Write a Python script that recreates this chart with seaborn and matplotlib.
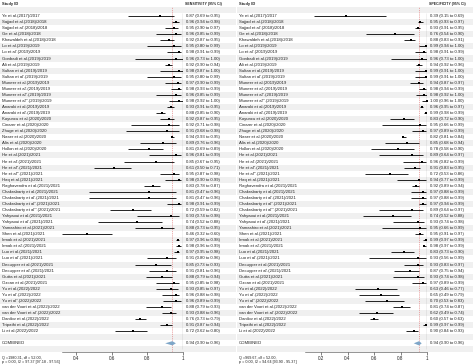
"""
Forest plot of pooled sensitivity and specificity
"""
import matplotlib
matplotlib.use("Agg")
import matplotlib.pyplot as plt
import seaborn as sns
import pandas as pd

studies = [
    "Ye et al.(2017)/2017", "Sajjad et al.(2018)/2018", "Sajjad et al'.(2018)/2018",
    "Ge et al.(2018)/2018", "Khawaldeh et al.(2018)/2018", "Lo et al.(2019)/2019",
    "Lo et al'.(2019)/2019", "Gonbadi et al.(2019)/2019", "Ali et al.(2019)/2019",
    "Sultan et al.(2019)/2019", "Sultan et al'.(2019)/2019", "Muneer et al.(2019)/2019",
    "Muneer et al'.(2019)/2019", "Muneer et al''.(2019)/2019", "Muneer et al'''.(2019)/2019",
    "Anaraki et al.(2019)/2019", "Anaraki et al'.(2019)/2019", "Koyuncu et al.(2020)/2020",
    "Cinarer et al.(2020)/2020", "Zhuge et al.(2020)/2020", "Naser et al.(2020)/2020",
    "Alis et al.(2020)/2020", "Hollon et al.(2020)/2020", "He et al.(2021)/2021",
    "He et al'.(2021)/2021", "He et al''.(2021)/2021", "He et al'''.(2021)/2021",
    "Haq et al.(2021)/2021", "Raghavendra et al.(2021)/2021", "Chakrabarty et al.(2021)/2021",
    "Chakrabarty et al'.(2021)/2021", "Chakrabarty et al''.(2021)/2021",
    "Chakrabarty et al'''.(2021)/2021", "Yahyaoui et al.(2021)/2021",
    "Yahyaoui et al'.(2021)/2021", "Yamashiro et al.(2021)/2021", "Shen et al.(2021)/2021",
    "Irmak et al.(2021)/2021", "Irmak et al'.(2021)/2021", "Luo et al.(2021)/2021",
    "Luo et al'.(2021)/2021", "Decuyper et al.(2021)/2021", "Decuyper et al'.(2021)/2021",
    "Gutta et al.(2021)/2021", "Ozcan et al.(2021)/2021", "Yu et al.(2022)/2022",
    "Yu et al'.(2022)/2022", "Yu et al''.(2022)/2022", "van der Voort et al.(2022)/2022",
    "van der Voort et al'.(2022)/2022", "Danilov et al.(2022)/2022",
    "Tripathi et al.(2022)/2022", "Li et al.(2022)/2022",
]

sens = [0.87, 0.96, 0.95, 0.96, 0.92, 0.95, 0.98, 0.96, 0.92, 0.98, 0.95, 0.97, 0.98,
        0.96, 0.98, 0.93, 0.88, 0.92, 0.92, 0.91, 0.94, 0.89, 0.81, 0.96, 0.85, 0.61,
        0.95, 0.98, 0.83, 0.81, 0.81, 0.98, 0.72, 0.93, 0.74, 0.88, 0.46, 0.97, 0.98,
        0.97, 0.91, 0.85, 0.91, 0.88, 0.95, 0.93, 0.96, 0.96, 0.88, 0.93, 0.76, 0.91, 0.72]
sens_lo = [0.69, 0.94, 0.90, 0.85, 0.87, 0.80, 0.91, 0.73, 0.90, 0.87, 0.80, 0.90, 0.93,
           0.85, 0.92, 0.91, 0.85, 0.87, 0.71, 0.68, 0.93, 0.76, 0.69, 0.81, 0.67, 0.50,
           0.87, 0.90, 0.78, 0.47, 0.47, 0.91, 0.59, 0.74, 0.52, 0.73, 0.32, 0.96, 0.96,
           0.95, 0.80, 0.73, 0.81, 0.79, 0.85, 0.85, 0.88, 0.89, 0.79, 0.88, 0.73, 0.87, 0.62]
sens_hi = [0.95, 0.98, 0.97, 0.99, 0.95, 0.99, 0.99, 1.00, 0.94, 1.00, 0.99, 0.99, 0.99,
           0.99, 1.00, 0.95, 0.90, 0.95, 0.98, 0.98, 0.95, 0.96, 0.89, 0.99, 0.95, 0.71,
           0.98, 0.99, 0.87, 0.96, 0.96, 0.99, 0.82, 0.98, 0.88, 0.95, 0.60, 0.98, 0.99,
           0.98, 0.96, 0.93, 0.96, 0.94, 0.98, 0.97, 0.98, 0.99, 0.93, 0.96, 0.79, 0.94, 0.80]

spec = [0.39, 0.95, 0.93, 0.76, 0.88, 0.99, 0.98, 0.96, 0.94, 0.99, 0.99, 0.94, 0.98,
        0.98, 1.00, 0.96, 0.99, 0.83, 0.95, 0.97, 0.82, 0.85, 0.78, 0.89, 0.96, 0.91,
        0.72, 0.94, 0.92, 0.97, 0.97, 0.97, 0.89, 0.74, 0.93, 0.95, 0.95, 0.99, 0.98,
        0.83, 0.93, 0.93, 0.87, 0.93, 0.97, 0.63, 0.65, 0.70, 0.81, 0.62, 0.60, 0.99, 0.90]
spec_lo = [0.15, 0.93, 0.91, 0.54, 0.83, 0.94, 0.91, 0.73, 0.92, 0.91, 0.91, 0.87, 0.94,
           0.92, 0.96, 0.95, 0.98, 0.72, 0.66, 0.89, 0.81, 0.68, 0.58, 0.64, 0.82, 0.83,
           0.53, 0.77, 0.89, 0.88, 0.88, 0.94, 0.64, 0.52, 0.74, 0.66, 0.91, 0.97, 0.97,
           0.73, 0.56, 0.83, 0.75, 0.74, 0.89, 0.46, 0.49, 0.53, 0.74, 0.49, 0.57, 0.97, 0.84]
spec_hi = [0.69, 0.97, 0.95, 0.90, 0.91, 1.00, 0.99, 1.00, 0.96, 1.00, 1.00, 0.97, 0.99,
           1.00, 1.00, 0.97, 0.99, 0.90, 0.99, 0.99, 0.84, 0.94, 0.90, 0.97, 0.99, 0.95,
           0.86, 0.99, 0.94, 0.99, 0.99, 0.99, 0.97, 0.88, 0.98, 0.99, 0.97, 0.99, 0.99,
           0.90, 0.99, 0.97, 0.94, 0.98, 0.99, 0.77, 0.79, 0.83, 0.87, 0.74, 0.63, 0.99, 0.93]

pooled_sens = [0.94, 0.90, 0.96]
pooled_spec = [0.94, 0.90, 0.96]
sens_ticks = [0.4, 0.6, 0.8, 1]
spec_ticks = [0.2, 0.4, 0.6, 0.8, 1]
sens_stats = ["Q =1980.31, df = 52.00,", "p = 0.00, I2 = 97.37 [97.18 - 97.56]"]
spec_stats = ["Q =969.67, df = 52.00,", "p = 0.00, I2 = 94.64 [93.90 - 95.37]"]

W, H = 474, 364
TOP, BOT = 7.0, 352.4
N_ROWS = 57  # header gap + studies + blank + combined + gap
STRIPE = "#f0f0f0"
TXT = "#222222"
FS = 3.1

sns.set_theme(style="white")
plt.rcParams["font.family"] = ["Liberation Sans", "DejaVu Sans"]

fig = plt.figure(figsize=(W / 100, H / 100), dpi=100)
fig.patch.set_facecolor("white")


def fx(px):
    return px / W


def fy(py):
    return 1 - py / H


def draw_panel(x0, x1, ax_x0, ax_x1, ci_x, xlim, est, lo, hi, pooled, ticks, header, stats):
    rows = list(range(1, len(studies) + 1))
    comb_row = len(studies) + 2
    df = pd.DataFrame({"study": studies, "est": est, "lo": lo, "hi": hi, "row": rows})

    # background: stripes and text columns
    bg = fig.add_axes([fx(x0), fy(BOT), fx(x1 - x0), (BOT - TOP) / H])
    bg.set_xlim(x0, x1)
    bg.set_ylim(N_ROWS - 0.5, -0.5)
    bg.axis("off")
    for r in range(0, N_ROWS, 2):
        bg.axhspan(r - 0.5, r + 0.5, color=STRIPE, lw=0)
    for _, d in df.iterrows():
        bg.text(x0 + 2, d["row"], d["study"], fontsize=FS, va="center", color=TXT)
        bg.text(ci_x, d["row"], f"{d['est']:.2f} ({d['lo']:.2f} to {d['hi']:.2f})",
                fontsize=FS, va="center", color=TXT)
    bg.text(x0 + 2, comb_row, "COMBINED", fontsize=FS, va="center", color=TXT)
    bg.text(ci_x, comb_row, f"{pooled[0]:.2f} ({pooled[1]:.2f} to {pooled[2]:.2f})",
            fontsize=FS, va="center", color=TXT)

    fig.text(fx(x0 + 2), fy(4), "Study ID", fontsize=2.9, fontweight="bold",
             va="center", color=TXT)
    fig.text(fx(ci_x - 1), fy(4), header, fontsize=2.55, fontweight="bold",
             va="center", color=TXT)
    fig.text(fx(x0 + 2), fy(358.5), stats[0], fontsize=2.7, va="center", color=TXT)
    fig.text(fx(x0 + 2), fy(362.3), stats[1], fontsize=2.7, va="center", color=TXT)

    # plot area
    ax = fig.add_axes([fx(ax_x0), fy(BOT), fx(ax_x1 - ax_x0), (BOT - TOP) / H])
    ax.patch.set_alpha(0)
    ax.set_xlim(*xlim)
    ax.set_ylim(N_ROWS - 0.5, -0.5)
    ax.hlines(df["row"], df["lo"], df["hi"], color="black", lw=0.6)
    sns.scatterplot(data=df, x="est", y="row", marker="s", s=2.5, color="black",
                    edgecolor="black", linewidth=0, ax=ax, zorder=3)
    ax.axvline(pooled[0], ls=(0, (2, 1.5)), color="#e38080", lw=0.45, zorder=1)
    ax.vlines(1, 0.5, N_ROWS - 1, color="black", lw=0.8, zorder=2)
    ax.fill([pooled[1], pooled[0], pooled[2], pooled[0]],
            [comb_row, comb_row - 0.35, comb_row, comb_row + 0.35],
            color="#7ea6c8", lw=0, zorder=3)

    ax.set_yticks([])
    ax.set_xticks(ticks)
    ax.set_xticklabels([f"{t:g}" for t in ticks])
    ax.tick_params(axis="x", length=2, width=0.4, pad=0.8, labelsize=3.3,
                   colors=TXT, bottom=True)
    sns.despine(ax=ax, left=True, top=True, right=True)
    ax.spines["bottom"].set_linewidth(0.4)
    ax.spines["bottom"].set_color("#444444")
    ax.set_xlabel("")
    ax.set_ylabel("")


draw_panel(0, 236, 62, 183, 186, (0.32, 1.0), sens, sens_lo, sens_hi,
           pooled_sens, sens_ticks, "SENSITIVITY (95% CI)", sens_stats)
draw_panel(237, 473, 305.1, 427, 430, (0.08, 1.0), spec, spec_lo, spec_hi,
           pooled_spec, spec_ticks, "SPECIFICITY (95% CI)", spec_stats)

fig.savefig("out.png", dpi=100)
